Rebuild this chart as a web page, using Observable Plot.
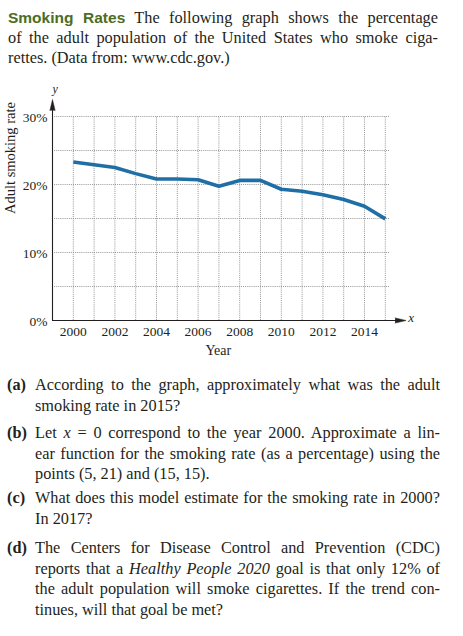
<!DOCTYPE html>
<html><head><meta charset="utf-8">
<script src="https://cdn.jsdelivr.net/npm/d3@7"></script>
<script src="https://cdn.jsdelivr.net/npm/@observablehq/plot@0.6"></script>
<style>
html,body{margin:0;padding:0;background:#fff;}
body{width:463px;height:636px;position:relative;overflow:hidden;font-family:"Liberation Serif",serif;color:#231f20;}
.blk{position:absolute;font-size:16.3px;line-height:20px;}
.ln{display:block;text-align:justify;text-align-last:justify;white-space:nowrap;}
.ln.last{text-align-last:left;}
.hd{font-family:"Liberation Sans",sans-serif;font-weight:bold;color:#4b6e22;font-size:15.5px;}
.q{position:absolute;left:7px;width:433px;font-size:16.3px;line-height:20.7px;}
.q .lab{position:absolute;left:0;top:0;font-weight:bold;}
.q .body{margin-left:28px;}
#chart{position:absolute;left:0;top:78px;}
#chart svg text{font-family:"Liberation Serif",serif;}
</style></head>
<body>
<div class="blk" style="left:8px;top:8px;width:430px;">
<span class="ln"><span class="hd">Smoking Rates</span> The following graph shows the percentage</span>
<span class="ln">of the adult population of the United States who smoke ciga-</span>
<span class="ln last">rettes. (Data from: www.cdc.gov.)</span>
</div>
<div id="chart"></div>
<div class="q" style="top:375px;"><span class="lab">(a)</span><div class="body">
<span class="ln">According to the graph, approximately what was the adult</span>
<span class="ln last">smoking rate in 2015?</span></div></div>
<div class="q" style="top:423px;"><span class="lab">(b)</span><div class="body">
<span class="ln">Let <i>x</i> = 0 correspond to the year 2000. Approximate a lin-</span>
<span class="ln">ear function for the smoking rate (as a percentage) using the</span>
<span class="ln last">points (5, 21) and (15, 15).</span></div></div>
<div class="q" style="top:488px;"><span class="lab">(c)</span><div class="body">
<span class="ln">What does this model estimate for the smoking rate in 2000?</span>
<span class="ln last">In 2017?</span></div></div>
<div class="q" style="top:538px;"><span class="lab">(d)</span><div class="body">
<span class="ln">The Centers for Disease Control and Prevention (CDC)</span>
<span class="ln">reports that a <i>Healthy People 2020</i> goal is that only 12% of</span>
<span class="ln">the adult population will smoke cigarettes. If the trend con-</span>
<span class="ln last">tinues, will that goal be met?</span></div></div>
<script>
const years = [2000,2001,2002,2003,2004,2005,2006,2007,2008,2009,2010,2011,2012,2013,2014,2015];
const rates = [23.3,22.9,22.5,21.6,20.8,20.8,20.7,19.75,20.6,20.6,19.3,19.0,18.5,17.8,16.8,14.95];
const xTicks = [2000,2002,2004,2006,2008,2010,2012,2014];
const yTicks = [0,10,20,30];
const gridYears = years;
const gridPcts = [5,10,15,20,25,30];
const xDomain = [1999, 2016];
const yDomain = [0, 32.5];
const gridXEnd = 2015.25;

const data = years.map((yr,i)=>({year: yr, rate: rates[i]}));
const ink = "#231f20";
const gridStroke = "#8a8a8a";

const chart = Plot.plot({
  width: 463, height: 290,
  marginLeft: 52, marginRight: 57.4, marginTop: 21, marginBottom: 48,
  style: {fontFamily: "Liberation Serif", fontSize: "13px", color: ink, background: "white"},
  x: {domain: xDomain, axis: null},
  y: {domain: yDomain, axis: null},
  marks: [
    Plot.ruleX(gridYears, {x: d=>d, y1: yDomain[0], y2: d3.max(gridPcts), stroke: gridStroke, strokeWidth: 0.9, strokeDasharray: "1 1.1"}),
    Plot.ruleY(gridPcts, {y: d=>d, x1: xDomain[0], x2: gridXEnd, stroke: gridStroke, strokeWidth: 0.9, strokeDasharray: "1 1.1"}),
    Plot.ruleY([yDomain[0]], {x1: xDomain[0], x2: xDomain[1] - 0.4, stroke: ink, strokeWidth: 1.1}),
    Plot.ruleX([xDomain[0]], {y1: yDomain[0], y2: yDomain[1] - 1.2, stroke: ink, strokeWidth: 1.1}),
    Plot.vector([0], {x: xDomain[1], y: yDomain[0], length: 11, rotate: 90, shape: "spike", r: 2.6, anchor: "end", fill: ink, stroke: ink, strokeWidth: 0.5}),
    Plot.vector([0], {x: xDomain[0], y: yDomain[1], length: 11, rotate: 0, shape: "spike", r: 2.6, anchor: "end", fill: ink, stroke: ink, strokeWidth: 0.5}),
    Plot.text(yTicks, {x: xDomain[0], y: d=>d, text: d => d + "%", textAnchor: "end", dx: -5, dy: 1, fontSize: 13.5, fill: ink}),
    Plot.text(xTicks, {x: d=>d, y: yDomain[0], text: d => String(d), dy: 11, fontSize: 13.5, fill: ink}),
    Plot.line(data, {x: "year", y: "rate", stroke: "#1f6fa6", strokeWidth: 3.6, strokeLinejoin: "round", strokeLinecap: "butt"}),
    Plot.text(["Year"], {frameAnchor: "bottom", dx: -11, dy: 34, text: d=>d, fontSize: 14, fill: ink}),
    Plot.text(["Adult smoking rate"], {frameAnchor: "left", dx: -42, dy: 4, rotate: -90, text: d=>d, fontSize: 14.5, fill: ink}),
    Plot.text(["y"], {frameAnchor: "top-left", dy: -15, text: d=>d, fontSize: 12, fontStyle: "italic", fill: ink}),
    Plot.text(["x"], {frameAnchor: "bottom-right", dx: 8, dy: 1, text: d=>d, fontSize: 13, fontStyle: "italic", fill: ink})
  ]
});
document.getElementById("chart").appendChild(chart);
</script>
</body></html>
